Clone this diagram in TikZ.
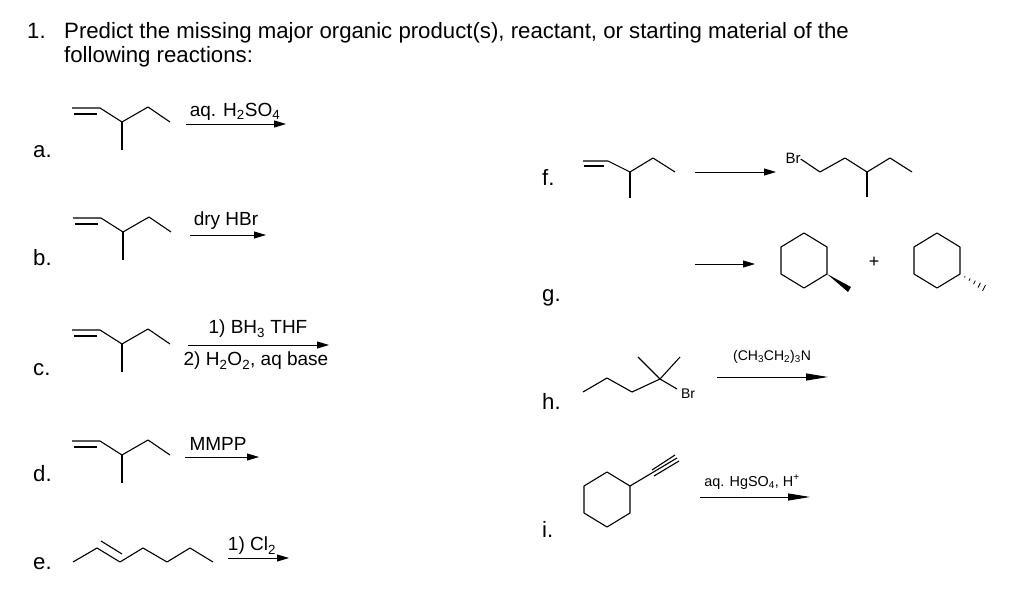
\documentclass[tikz,border=0pt]{standalone}
\usepackage{fontspec}
\setmainfont{Liberation Sans}
\usetikzlibrary{arrows.meta,calc}
\newcommand\sub[1]{\textsubscript{#1}}
\newcommand\alkeneshape[2]{%
\begin{scope}[shift={(#1,#2)}]
\draw[bond] (0,0)--(28,0)--(50,14)--(76,-1)--(98,14);
\draw[bond] (50,14)--(50,42);
\draw[bond] (2,6)--(25,6);
\end{scope}}
\begin{document}
\begin{tikzpicture}[x=1pt,y=-1pt,
  bond/.style={line width=1.1pt,line join=round},
  rx/.style={line width=0.9pt,-{Triangle[length=12pt,width=7pt]}},
  rxbig/.style={line width=0.9pt,-{Triangle[length=22pt,width=7pt]}},
  lab/.style={font=\fontsize{22.2}{26}\selectfont,inner sep=0pt},
  reag/.style={font=\fontsize{19}{22}\selectfont,inner sep=0pt},
  sreag/.style={font=\fontsize{14.4}{17}\selectfont,inner sep=0pt}]
\useasboundingbox (0,0) rectangle (1024,602);
% title
\node[lab,anchor=base west] (t1) at (27,38) {1.};
\node[lab,anchor=base west] (t2) at (64,38) {Predict the missing major organic product(s), reactant, or starting material of the};
\node[lab,anchor=base west] (t3) at (64,63) {following reactions:};
% labels
\node[lab,anchor=base west] (la) at (33,157) {a.};
\node[lab,anchor=base west] (lb) at (33,265) {b.};
\node[lab,anchor=base west] (lc) at (33,375) {c.};
\node[lab,anchor=base west] (ld) at (33,481) {d.};
\node[lab,anchor=base west] (le) at (33,569) {e.};
\node[lab,anchor=base west] (lf) at (542,185) {f.};
\node[lab,anchor=base west] (lg) at (542,301) {g.};
\node[lab,anchor=base west] (lh) at (542,409) {h.};
\node[lab,anchor=base west] (li) at (542,537) {i.};
% a-d molecules
\alkeneshape{72}{108}
\alkeneshape{73}{218}
\alkeneshape{72}{330}
\alkeneshape{72}{441}
% a
\coordinate (a1) at (186,124); \coordinate (a2) at (286,124);
\draw[rx] (a1)--(a2);
\node[reag] (ra) at (235,112) {aq. H\sub{2}SO\sub{4}};
% b
\coordinate (b1) at (190,235); \coordinate (b2) at (266,235);
\draw[rx] (b1)--(b2);
\node[reag] (rb) at (226,221) {dry HBr};
% c
\coordinate (c1) at (188,345); \coordinate (c2) at (329,345);
\draw[rx] (c1)--(c2);
\node[reag] (rc1) at (258,329) {1) BH\sub{3} THF};
\node[reag] (rc2) at (256,361) {2) H\sub{2}O\sub{2}, aq base};
% d
\coordinate (d1) at (185,457); \coordinate (d2) at (259,457);
\draw[rx] (d1)--(d2);
\node[reag] (rd) at (218,444) {MMPP};
% e
\draw[bond] (73,562)--(97,548)--(120,562)--(143,548)--(167,562)--(190,548)--(213,562);
\draw[bond] (101,541)--(122,554);
\coordinate (e1) at (228,558); \coordinate (e2) at (289,558);
\draw[rx] (e1)--(e2);
\node[reag] (re) at (252,546) {1) Cl\sub{2}};
% f
\draw[bond] (583,161)--(608,161)--(630,172)--(653,158)--(675,172);
\draw[bond] (630,172)--(630,198);
\draw[bond] (584,166)--(604,166);
\coordinate (f1) at (695,172); \coordinate (f2) at (776,172);
\draw[rx] (f1)--(f2);
\node[font=\fontsize{15}{17}\selectfont,inner sep=0pt] (br1) at (793,158) {Br};
\draw[bond] ($(br1.east)+(0,1)$)--(820,172)--(845,158)--(867,172)--(890,158)--(912,172);
\draw[bond] (867,172)--(867,197);
% g
\coordinate (g1) at (695,264); \coordinate (g2) at (755,264);
\draw[rx] (g1)--(g2);
\draw[bond] (804,233)--(827,247)--(827,274)--(804,288)--(781,274)--(781,247)--cycle;
\fill (827,274)--(851,287)--(848,292)--cycle;
\node[font=\fontsize{18}{20}\selectfont,inner sep=0pt] (plus) at (874,262) {+};
\draw[bond] (937,233)--(960,247)--(960,274)--(937,288)--(914,274)--(914,247)--cycle;
\foreach \t in {0.2,0.4,0.6,0.8,1.0}{
  \draw[line width=0.8pt] ($(960,274)+\t*(24,14)+\t*(1.5,-3)$)--($(960,274)+\t*(24,14)-\t*(1.5,-3)$);}
% h
\draw[bond] (583,392)--(607,378)--(632,392)--(660,379);
\draw[bond] (638,357)--(660,379)--(680,357);
\draw[bond] (660,379)--(677,389);
\node[font=\fontsize{14}{16}\selectfont,inner sep=0pt] (br2) at (688,394) {Br};
\coordinate (h1) at (717,377); \coordinate (h2) at (828,377);
\draw[rxbig] (h1)--(h2);
\node[font=\fontsize{14}{17}\selectfont,inner sep=0pt] (rh) at (772,357) {(CH\sub{3}CH\sub{2})\sub{3}N};
% i
\draw[bond] (607,472)--(630,486)--(630,513)--(607,527)--(584,513)--(584,486)--cycle;
\draw[bond] (630,486)--(677,458);
\draw[bond] (652,470)--(675,455);
\draw[bond] (654,476)--(679,461);
\coordinate (i1) at (700,497); \coordinate (i2) at (810,497);
\draw[rxbig] (i1)--(i2);
\node[sreag] (ri) at (752,482) {aq. HgSO\sub{4}, H\textsuperscript{+}};
\end{tikzpicture}
\end{document}
